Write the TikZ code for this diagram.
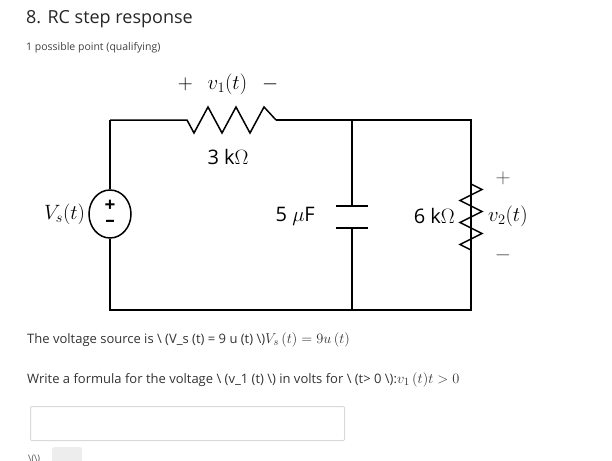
\documentclass[tikz,border=0pt]{standalone}
\usepackage{fontspec}
\setmainfont{Open Sans}
\usepackage{amsmath}
\usetikzlibrary{positioning, calc, shapes.geometric}

\begin{document}
\begin{tikzpicture}[x=1pt, y=-1pt, every node/.style={inner sep=1pt}]
\tikzset{
  wire/.style={line width=1.5pt, line join=miter},
  txt/.style={anchor=west, font=\fontsize{13}{15}\selectfont, text=black!80},
  lbl/.style={font=\fontsize{20}{22}\selectfont}
}
\useasboundingbox (0,0) rectangle (612,460);

% heading
\node (title) [anchor=west, font=\fontsize{18}{20}\selectfont, text=black!85] at (25,19) {8. RC step response};
\node (points) [anchor=west, font=\fontsize{10.5}{12}\selectfont, text=black!75] at (25,48) {1 possible point (qualifying)};

% corners of the circuit
\coordinate (tl) at (110,120);
\coordinate (bl) at (110,310);
\coordinate (tm) at (352,120);
\coordinate (bm) at (352,310);
\coordinate (tr) at (471,120);
\coordinate (br) at (471,310);

% source
\node (src) [draw, line width=1.5pt, ellipse, minimum width=42pt, minimum height=48pt, inner sep=0pt] at (110,214) {};
\node [font=\bfseries\fontsize{19}{19}\selectfont] at ($(src.center)+(0,-8)$) {+};
\node [font=\bfseries\fontsize{19}{19}\selectfont] at ($(src.center)+(0,9)$) {--};
\node (vs) [left=2pt of src, lbl] {$V_s(t)$};

% series resistor
\coordinate (r1a) at (187,120);
\coordinate (r1b) at (276,120);
\draw [wire] (tl) -- (src.north);
\draw [wire] (src.south) -- (bl) -- (br) -- (tr) -- (r1b);
\draw [wire] (tl) -- (r1a) -- ++(7,13) -- ++(14,-26) -- ++(14,26) -- ++(14,-26) -- ++(14,26) -- ++(14,-26) -- (r1b);
\node (r1) [lbl] at (228,157) {3 k$\Omega$};
\node (v1) [lbl] at (228,84) {$+\;\;\, v_1(t)\;\;\, -$};

% capacitor
\coordinate (c1a) at (352,206);
\coordinate (c1b) at (352,228);
\draw [wire] (tm) -- (c1a);
\draw [wire] (c1b) -- (bm);
\draw [wire] ($(c1a)+(-16,0)$) -- ($(c1a)+(16,0)$);
\draw [wire] ($(c1b)+(-16,0)$) -- ($(c1b)+(16,0)$);
\node (c1) [lbl, anchor=east] at (316,216) {5 $\mu$F};

% shunt resistor
\coordinate (r2a) at (471,184);
\coordinate (r2b) at (471,250);
\draw [wire] (tr) -- (r2a) -- ++(11,5.5) -- ++(-22,11) -- ++(22,11) -- ++(-22,11) -- ++(22,11) -- ++(-22,11) -- (r2b) -- (br);
\node (r2) [lbl, anchor=east] at (456,216) {6 k$\Omega$};
\node (v2) [lbl, anchor=west] at (487,216) {$v_2(t)$};
\node (v2p) [lbl, text=black!70] at (503,178) {$+$};
\node (v2m) [lbl, text=black!70] at (503,255) {$-$};

% question text
\node (q1) [txt] at (26,340) {The voltage source is \textbackslash\ (V\_s (t) = 9 u (t) \textbackslash)\fontsize{15}{17}\selectfont$V_s\,(t) = 9u\,(t)$};
\node (q2) [txt] at (26,380) {Write a formula for the voltage \textbackslash\ (v\_1 (t) \textbackslash) in volts for \textbackslash\ (t> 0 \textbackslash):\fontsize{15}{17}\selectfont$v_1\,(t) t > 0$};

% answer boxes
\node (answer) [draw=black!15, line width=1pt, rounded corners=1pt, anchor=north west, minimum width=314pt, minimum height=34pt] at (30,406) {};
\node (unit) [fill=black!7, rounded corners=2pt, anchor=north west, minimum width=30pt, minimum height=16pt] at (52,447) {};
\node (esc) [anchor=west, font=\fontsize{9}{10}\selectfont, text=black!70] at (27,459) {\textbackslash (\textbackslash)};
\end{tikzpicture}
\end{document}
